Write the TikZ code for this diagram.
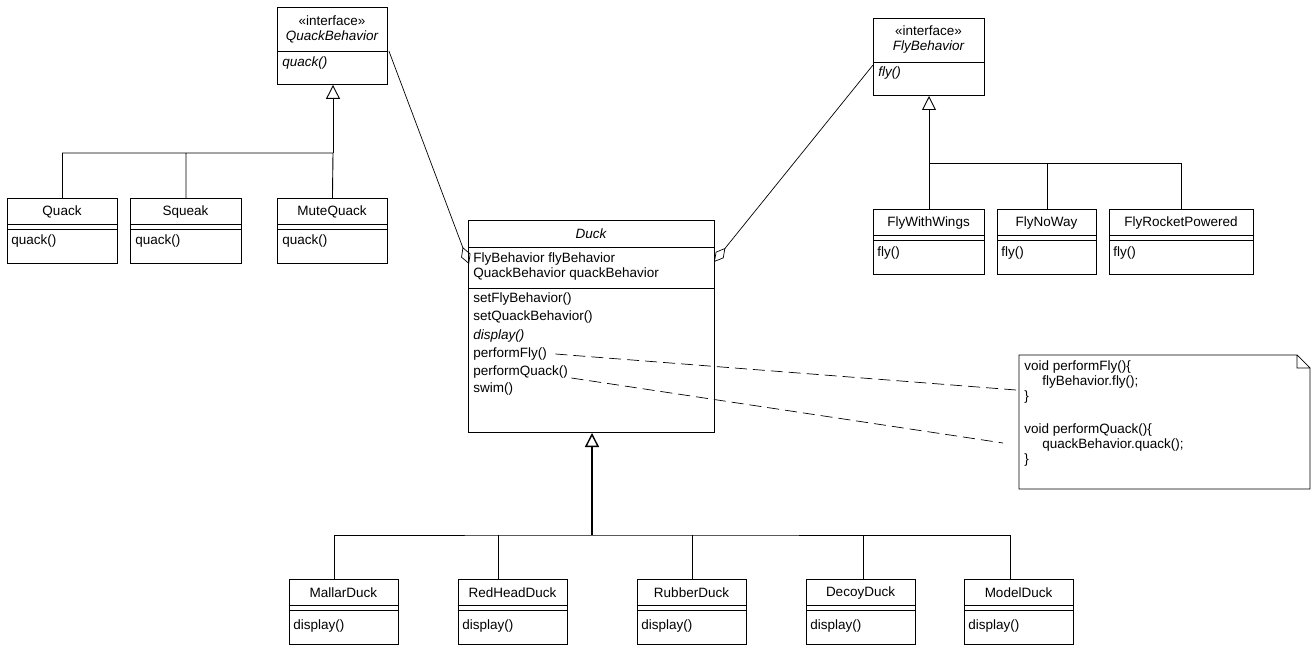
\documentclass[tikz,border=0pt]{standalone}
\usepackage{fontspec}
\setmainfont{Liberation Sans}
\usetikzlibrary{arrows.meta}
\begin{document}
\begin{tikzpicture}[x=1pt,y=-1pt,line width=0.9pt,
  font=\fontsize{13.5}{15}\selectfont,
  box/.style={draw,rectangle,anchor=north west,inner sep=0},
  txt/.style={anchor=west,inner sep=0},
  ctr/.style={anchor=center,inner sep=0},
  gen/.style={-{Triangle[open,length=14,width=14]}},
  agg/.style={-{Diamond[open,length=18,width=10]},line width=0.7pt}]
\useasboundingbox (0,0) rectangle (1316,655);
% class helper: name, x1,y1,x2,y2
\newcommand\cls[6]{%
  \node[box,minimum width=#4-#2,minimum height=#5-#3] (#1) at (#2,#3) {};
  \node[ctr] (#1t) at ({(#2+#4)/2},#3+14) {#6};
  \draw (#2,#3+26) -- (#4,#3+26) (#2,#3+31) -- (#4,#3+31);}
% QuackBehavior
\node[box,minimum width=110,minimum height=77] (qb) at (277,7) {};
\node[ctr,align=center] (qbt) at (332,29) {«interface»\\\itshape QuackBehavior};
\draw (277,51) -- (387,51);
\node[txt] (qbm) at (282,63) {\itshape quack()};
\cls{q}{7}{198}{117}{263}{Quack}
\node[txt] (qm) at (11,241) {quack()};
\cls{s}{130}{198}{241}{263}{Squeak}
\node[txt] (sm) at (135,241) {quack()};
\cls{m}{277}{198}{387}{263}{MuteQuack}
\node[txt] (mm) at (282,241) {quack()};
\coordinate (qj) at (333,153);
\draw (q.north) |- (qj) (s.north) -- (s.north|-qj) (m.north) -- (qj);
\draw[gen] (qj) -- (qb.south-|qj);
% FlyBehavior
\node[box,minimum width=111,minimum height=77] (fb) at (873,18) {};
\node[ctr,align=center] (fbt) at (928.5,40) {«interface»\\\itshape FlyBehavior};
\draw (873,62) -- (984,62);
\node[txt] (fbm) at (878,73) {\itshape fly()};
\cls{fw}{873}{209}{984}{274}{FlyWithWings}
\node[txt] (fwm) at (877,253) {fly()};
\cls{fn}{997}{209}{1096}{274}{FlyNoWay}
\node[txt] (fnm) at (1001,253) {fly()};
\cls{fr}{1109}{209}{1253}{274}{FlyRocketPowered}
\node[txt] (frm) at (1113,253) {fly()};
\coordinate (fj) at (929,163);
\draw (fr.north) |- (fj) (fn.north) -- (fn.north|-fj) (fw.north-|fj) -- (fj);
\draw[gen] (fj) -- (929,96);
% Duck
\node[box,minimum width=246,minimum height=212] (d) at (468,220) {};
\node[ctr] (dt) at (591,234) {\itshape Duck};
\draw (468,247) -- (714,247) (468,288) -- (714,288);
\node[txt,align=left] (da) at (473,267) {FlyBehavior flyBehavior\\QuackBehavior quackBehavior};
\node[txt] (d1) at (473,299) {setFlyBehavior()};
\node[txt] (d2) at (473,317.5) {setQuackBehavior()};
\node[txt] (d3) at (473,336) {\itshape display()};
\node[txt] (d4) at (473,354) {performFly()};
\node[txt] (d5) at (473,372) {performQuack()};
\node[txt] (d6) at (473,389.5) {swim()};
% aggregations
\draw[agg] (qb.north east) ++(1,44) -- (469,264);
\draw[agg] (fb.north west) ++(0,47) -- (714,262);
% ducks
\cls{k1}{289}{579}{398}{644}{MallarDuck}
\node[txt] (k1m) at (293,626) {display()};
\cls{k2}{458}{579}{567}{644}{RedHeadDuck}
\node[txt] (k2m) at (462,626) {display()};
\cls{k3}{637}{579}{746}{644}{RubberDuck}
\node[txt] (k3m) at (641,626) {display()};
\cls{k4}{806}{579}{915}{644}{DecoyDuck}
\node[txt] (k4m) at (810,626) {display()};
\cls{k5}{964}{579}{1073}{644}{ModelDuck}
\node[txt] (k5m) at (968,626) {display()};
\coordinate (dj) at (592,535);
\draw ([xshift=-10pt]k1.north) |- (dj) -| ([xshift=-9pt]k5.north);
\draw ([xshift=-15pt]k2.north) -- ++(0,-44) ([xshift=0.5pt]k3.north) -- ++(0,-44) ([xshift=2pt]k4.north) -- ++(0,-44);
\draw[gen,line width=1.4pt] (dj) -- (592,433);
% note
\draw[line width=0.7pt] (1019,355) -- (1297,355) -- (1310,368) -- (1310,489) -- (1019,489) -- cycle
  (1297,355) -- (1297,368) -- (1310,368);
\node[txt,align=left,anchor=north west] (note) at (1024,360) {void performFly()\{\\\hspace*{18pt}flyBehavior.fly();\\\}\\[18pt]void performQuack()\{\\\hspace*{18pt}quackBehavior.quack();\\\}};
\draw[dashed,dash pattern=on 12pt off 6pt,line width=0.7pt] (d4.east) ++(8,0) -- (1016,390);
\draw[dashed,dash pattern=on 12pt off 6pt,line width=0.7pt] (d5.east) ++(3,6) -- (1003,443);
\end{tikzpicture}
\end{document}
